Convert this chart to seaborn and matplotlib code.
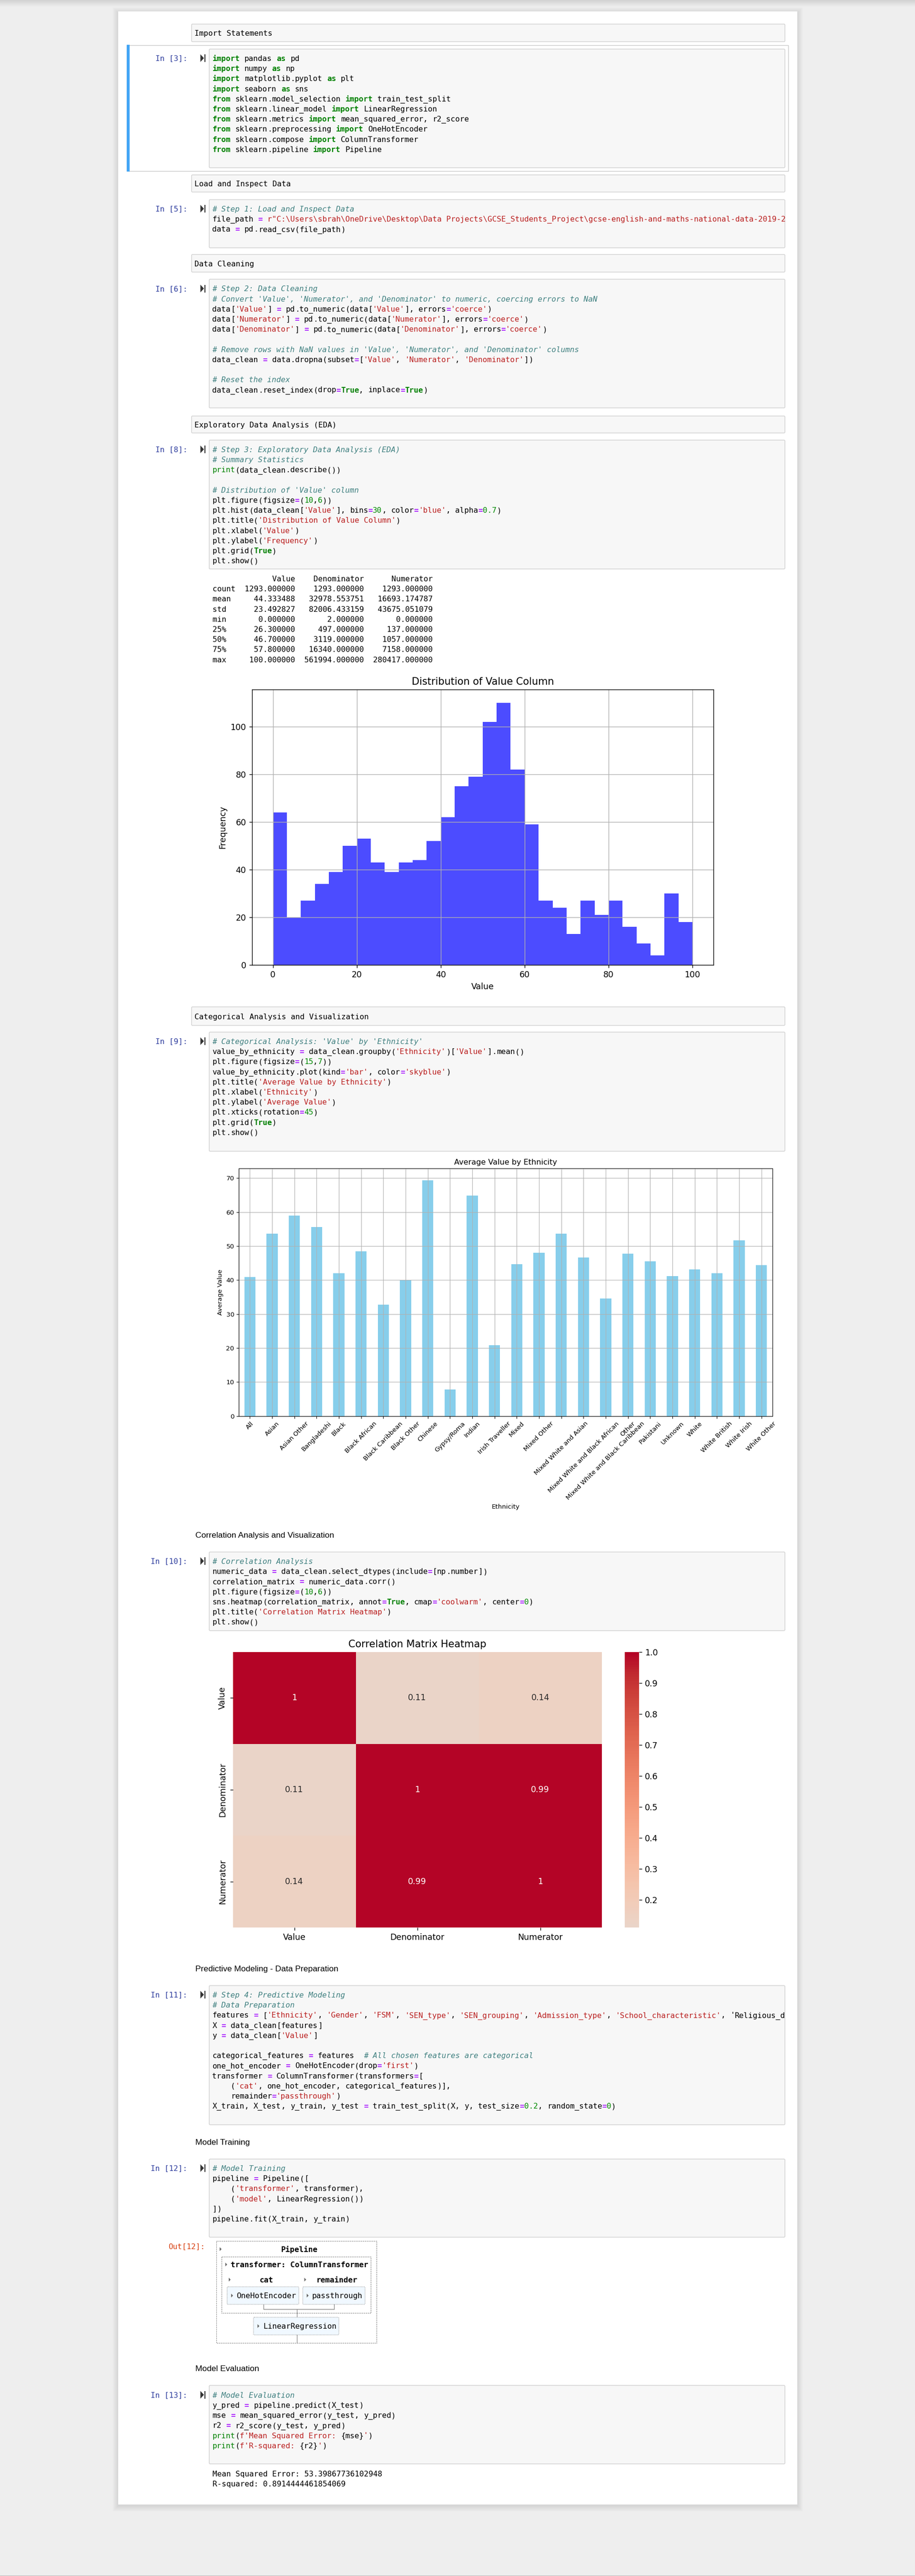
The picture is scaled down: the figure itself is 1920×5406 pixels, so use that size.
#!/usr/bin/env python3
import re
import numpy as np
import pandas as pd
import matplotlib
matplotlib.use('Agg')
import matplotlib.pyplot as plt
from matplotlib.patches import Rectangle, FancyBboxPatch, Polygon
import seaborn as sns

# chart data
hist_counts = [64, 20, 27, 34, 39, 50, 53, 43, 39, 43, 44, 52, 62, 75, 79,
               102, 110, 82, 59, 27, 24, 13, 27, 21, 27, 16, 9, 4, 30, 18]

ethnicity = ['All', 'Asian', 'Asian Other', 'Bangladeshi', 'Black', 'Black African',
             'Black Caribbean', 'Black Other', 'Chinese', 'Gypsy/Roma', 'Indian',
             'Irish Traveller', 'Mixed', 'Mixed Other', 'Mixed White and Asian',
             'Mixed White and Black African', 'Mixed White and Black Caribbean',
             'Other', 'Pakistani', 'Unknown', 'White', 'White British',
             'White Irish', 'White Other']
avg_values = [40.9, 53.6, 59.0, 55.6, 42.0, 48.4, 32.8, 40.0, 69.4, 7.8, 64.8, 20.9,
              44.7, 48.1, 53.7, 46.6, 34.6, 47.7, 45.5, 41.1, 43.1, 42.0, 51.7, 44.4]

corr_names = ['Value', 'Denominator', 'Numerator']
corr_value = [1, 0.11, 0.14]
corr_denominator = [0.11, 1, 0.99]
corr_numerator = [0.14, 0.99, 1]
cbar_ticks = [0.2, 0.3, 0.4, 0.5, 0.6, 0.7, 0.8, 0.9, 1.0]

# notebook text
code_3 = ["import pandas as pd",
          "import numpy as np",
          "import matplotlib.pyplot as plt",
          "import seaborn as sns",
          "from sklearn.model_selection import train_test_split",
          "from sklearn.linear_model import LinearRegression",
          "from sklearn.metrics import mean_squared_error, r2_score",
          "from sklearn.preprocessing import OneHotEncoder",
          "from sklearn.compose import ColumnTransformer",
          "from sklearn.pipeline import Pipeline"]
code_5 = ["# Step 1: Load and Inspect Data",
          "file_path = r\"C:\\Users\\sbrah\\OneDrive\\Desktop\\Data Projects\\GCSE_Students_Project\\gcse-english-and-maths-national-data-2019-2",
          "data = pd.read_csv(file_path)"]
code_6 = ["# Step 2: Data Cleaning",
          "# Convert 'Value', 'Numerator', and 'Denominator' to numeric, coercing errors to NaN",
          "data['Value'] = pd.to_numeric(data['Value'], errors='coerce')",
          "data['Numerator'] = pd.to_numeric(data['Numerator'], errors='coerce')",
          "data['Denominator'] = pd.to_numeric(data['Denominator'], errors='coerce')",
          "",
          "# Remove rows with NaN values in 'Value', 'Numerator', and 'Denominator' columns",
          "data_clean = data.dropna(subset=['Value', 'Numerator', 'Denominator'])",
          "",
          "# Reset the index",
          "data_clean.reset_index(drop=True, inplace=True)"]
code_8 = ["# Step 3: Exploratory Data Analysis (EDA)",
          "# Summary Statistics",
          "print(data_clean.describe())",
          "",
          "# Distribution of 'Value' column",
          "plt.figure(figsize=(10,6))",
          "plt.hist(data_clean['Value'], bins=30, color='blue', alpha=0.7)",
          "plt.title('Distribution of Value Column')",
          "plt.xlabel('Value')",
          "plt.ylabel('Frequency')",
          "plt.grid(True)",
          "plt.show()"]
describe_rows = ["             Value    Denominator      Numerator",
                 "count  1293.000000    1293.000000    1293.000000",
                 "mean     44.333488   32978.553751   16693.174787",
                 "std      23.492827   82006.433159   43675.051079",
                 "min       0.000000       2.000000       0.000000",
                 "25%      26.300000     497.000000     137.000000",
                 "50%      46.700000    3119.000000    1057.000000",
                 "75%      57.800000   16340.000000    7158.000000",
                 "max     100.000000  561994.000000  280417.000000"]
code_9 = ["# Categorical Analysis: 'Value' by 'Ethnicity'",
          "value_by_ethnicity = data_clean.groupby('Ethnicity')['Value'].mean()",
          "plt.figure(figsize=(15,7))",
          "value_by_ethnicity.plot(kind='bar', color='skyblue')",
          "plt.title('Average Value by Ethnicity')",
          "plt.xlabel('Ethnicity')",
          "plt.ylabel('Average Value')",
          "plt.xticks(rotation=45)",
          "plt.grid(True)",
          "plt.show()"]
code_10 = ["# Correlation Analysis",
           "numeric_data = data_clean.select_dtypes(include=[np.number])",
           "correlation_matrix = numeric_data.corr()",
           "plt.figure(figsize=(10,6))",
           "sns.heatmap(correlation_matrix, annot=True, cmap='coolwarm', center=0)",
           "plt.title('Correlation Matrix Heatmap')",
           "plt.show()"]
code_11 = ["# Step 4: Predictive Modeling",
           "# Data Preparation",
           "features = ['Ethnicity', 'Gender', 'FSM', 'SEN_type', 'SEN_grouping', 'Admission_type', 'School_characteristic', 'Religious_d",
           "X = data_clean[features]",
           "y = data_clean['Value']",
           "",
           "categorical_features = features  # All chosen features are categorical",
           "one_hot_encoder = OneHotEncoder(drop='first')",
           "transformer = ColumnTransformer(transformers=[",
           "    ('cat', one_hot_encoder, categorical_features)],",
           "    remainder='passthrough')",
           "X_train, X_test, y_train, y_test = train_test_split(X, y, test_size=0.2, random_state=0)"]
code_12 = ["# Model Training",
           "pipeline = Pipeline([",
           "    ('transformer', transformer),",
           "    ('model', LinearRegression())",
           "])",
           "pipeline.fit(X_train, y_train)"]
code_13 = ["# Model Evaluation",
           "y_pred = pipeline.predict(X_test)",
           "mse = mean_squared_error(y_test, y_pred)",
           "r2 = r2_score(y_test, y_pred)",
           "print(f'Mean Squared Error: {mse}')",
           "print(f'R-squared: {r2}')"]
eval_rows = ["Mean Squared Error: 53.39867736102948",
             "R-squared: 0.8914444461854069"]

FIG_W, FIG_H = 1920, 5406
MONO = 'DejaVu Sans Mono'
MONO_SIZE = 11.5
CHAR_W = 9.62
LINE_H = 21.2

TOKEN_RE = re.compile(
    r"(?P<comment>#.*$)"
    r"|(?P<string>[rf]?'[^']*'|[rf]?\"[^\"]*(?:\"|$))"
    r"|\b(?P<kw>import|from|as|True)\b"
    r"|\b(?P<builtin>print)\b"
    r"|\b(?P<num>\d+(?:\.\d+)?)\b"
    r"|(?P<op>=)"
    r"|(?P<other>\s+|\w+|.)")


def add_px_axes(fig, left, top, right, bottom):
    """axes from pixel edges"""
    return fig.add_axes([left / FIG_W, 1 - bottom / FIG_H,
                         (right - left) / FIG_W, (bottom - top) / FIG_H])


def put(bg, col_x, y, text, color='black', **kw):
    bg.text(col_x, y, text, color=color, family=MONO, fontsize=MONO_SIZE,
            va='baseline', **kw)


def draw_code_line(bg, x0, y, line):
    """simple syntax colouring, one text per token"""
    for m in TOKEN_RE.finditer(line):
        tok = m.group(0)
        if not tok.strip():
            continue
        x = x0 + m.start() * CHAR_W
        kind = m.lastgroup
        if kind == 'comment':
            put(bg, x, y, tok, '#408080', style='italic')
        elif kind == 'string':
            if tok.startswith("f'"):
                # f-string, the braces stay black
                for part in re.finditer(r"\{[^}]*\}|[^{]+", tok):
                    c = 'black' if part.group(0).startswith('{') else '#BA2121'
                    put(bg, x + part.start() * CHAR_W, y, part.group(0), c)
            else:
                put(bg, x, y, tok, '#BA2121')
        elif kind == 'kw':
            put(bg, x, y, tok, '#008000', weight='bold')
        elif kind == 'builtin':
            put(bg, x, y, tok, '#008000')
        elif kind == 'num':
            put(bg, x, y, tok, '#008800')
        elif kind == 'op':
            put(bg, x, y, tok, '#AA22FF', weight='bold')
        else:
            put(bg, x, y, tok)


def box(bg, x0, y0, x1, y1, face='#f7f7f7', edge='#cfcfcf', lw=1.0, ls='-', z=2):
    bg.add_patch(FancyBboxPatch((x0, y0), x1 - x0, y1 - y0,
                                boxstyle='round,pad=0,rounding_size=2',
                                fc=face, ec=edge, lw=lw, ls=ls, zorder=z))


def raw_cell(bg, top, bottom, text):
    box(bg, 402, top, 1647, bottom)
    put(bg, 408.5, (top + bottom) / 2 + 6, text, zorder=3)


def code_cell(bg, top, bottom, first_y, lines, prompt):
    box(bg, 439, top, 1647, bottom)
    bg.text(393.5, first_y + 6, prompt, color='#303F9F', family=MONO,
            fontsize=MONO_SIZE, ha='right', va='baseline')
    # run indicator
    bg.add_patch(Polygon([(420.5, first_y - 8), (428, first_y), (420.5, first_y + 8)],
                         fc='#333333', ec='none', zorder=3))
    bg.add_patch(Rectangle((428.5, first_y - 8), 2.5, 16, fc='#333333', ec='none', zorder=3))
    for i, line in enumerate(lines):
        draw_code_line(bg, 445.5, first_y + 6 + i * LINE_H, line)


def plain_heading(bg, y, text):
    bg.text(410, y + 6, text, color='black', family='Liberation Sans', fontsize=12.57,
            va='baseline')


def output_text(bg, first_y, rows):
    for i, row in enumerate(rows):
        if row:
            put(bg, 445.5, first_y + 6 + i * LINE_H, row)


def style_axes(ax, k):
    """default matplotlib look, scaled as the picture was resized by k"""
    for s in ax.spines.values():
        s.set_linewidth(0.8 * k)
    ax.tick_params(length=3.5 * k, width=0.8 * k, pad=3.5 * k, labelsize=10 * k)


def draw_hist(fig):
    ax = add_px_axes(fig, 528.6, 1447, 1497, 2025)
    edges = np.linspace(0, 100, 31)
    mids = (edges[:-1] + edges[1:]) / 2
    sns.histplot(x=mids, weights=hist_counts, bins=30, binrange=(0, 100), color='blue',
                 alpha=0.7, linewidth=0, ax=ax)
    ax.set_xlim(-5, 105)
    ax.set_ylim(0, 115.5)
    ax.grid(True, color='#b0b0b0', lw=1.0)
    k = 1.25
    style_axes(ax, k)
    ax.set_title('Distribution of Value Column', fontsize=12 * k, pad=6 * k)
    ax.set_xlabel('Value', fontsize=10 * k, labelpad=4 * k)
    ax.set_ylabel('Frequency', fontsize=10 * k, labelpad=4 * k)


def draw_bars(fig):
    ax = add_px_axes(fig, 500.9, 2451.8, 1621, 2971.7)
    sns.barplot(x=ethnicity, y=avg_values, color='skyblue', saturation=1, width=0.5,
                linewidth=0, errorbar=None, ax=ax)
    ax.set_xlim(-0.5, 23.5)
    ax.set_ylim(0, 72.87)
    ax.grid(True, color='#b0b0b0', lw=0.8)
    k = 0.964
    style_axes(ax, k)
    ax.tick_params(axis='x', rotation=45)
    ax.set_title('Average Value by Ethnicity', fontsize=12 * k, pad=6 * k)
    ax.set_xlabel('Ethnicity', fontsize=10 * k, labelpad=4 * k)
    ax.set_ylabel('Average Value', fontsize=10 * k, labelpad=4 * k)


def draw_heatmap(fig):
    ax = add_px_axes(fig, 488.5, 3467, 1262.7, 4045)
    cax = add_px_axes(fig, 1311, 3467, 1340.5, 4045)
    corr = pd.DataFrame([corr_value, corr_denominator, corr_numerator],
                        index=corr_names, columns=corr_names)
    k = 1.25
    sns.heatmap(corr, annot=True, cmap='coolwarm', center=0, ax=ax, cbar_ax=cax,
                cbar_kws={'ticks': cbar_ticks}, annot_kws={'size': 10 * k})
    style_axes(ax, k)
    ax.tick_params(length=3.5 * k)
    cax.tick_params(length=3.5 * k, width=0.8 * k, pad=3.5 * k, labelsize=10 * k)
    ax.set_title('Correlation Matrix Heatmap', fontsize=12 * k, pad=6 * k)


def draw_pipeline_diagram(bg):
    """sklearn estimator repr under Out[12]"""
    bg.text(430, 4720, 'Out[12]:', color='#D84315', family=MONO, fontsize=MONO_SIZE,
            ha='right', va='baseline')
    gray = '#696969'
    for x0, y0, x1, y1 in [(453.6, 4702.7, 790.4, 4917), (464.5, 4735.7, 778, 4854.3)]:
        bg.add_patch(Rectangle((x0, y0), x1 - x0, y1 - y0, fc='white', ec='#777777',
                               lw=0.8, ls=(0, (2, 1.5)), zorder=2))
    # connectors
    for xs, ys in [([552.5, 552.5], [4836, 4846]), ([701, 701], [4836, 4846]),
                   ([552.5, 701], [4846, 4846]), ([622.7, 622.7], [4846, 4863]),
                   ([622.7, 622.7], [4900, 4917])]:
        bg.plot(xs, ys, color='#777777', lw=0.8, zorder=3)
    for x0, x1, y0, y1, label, tx, ax_ in [
            (476.6, 627, 4799, 4836, 'OneHotEncoder', 496, 487),
            (635.4, 766, 4799, 4836, 'passthrough', 655, 645.6),
            (532, 711, 4863, 4900, 'LinearRegression', 552, 542.3)]:
        box(bg, x0, y0, x1, y1, face='#f0f8ff', edge='#777777', lw=0.8, ls=':', z=4)
        put(bg, tx, y0 + 24, label, zorder=5)
        bg.add_patch(Polygon([(ax_ - 2, y0 + 14.5), (ax_ + 2, y0 + 18.5), (ax_ - 2, y0 + 22.5)],
                             fc=gray, ec='none', zorder=5))
    for cx, y, label in [(628.4, 4726, 'Pipeline'), (628.4, 4758, 'transformer: ColumnTransformer'),
                         (559, 4790, 'cat'), (707.5, 4790, 'remainder')]:
        bg.text(cx, y, label, color='black', family=MONO, fontsize=MONO_SIZE, weight='bold',
                ha='center', va='baseline', zorder=5)
    for ax_, y in [(463, 4720), (474.7, 4752.3), (482, 4784), (640.5, 4784)]:
        bg.add_patch(Polygon([(ax_ - 2, y - 4), (ax_ + 2, y), (ax_ - 2, y + 4)],
                             fc=gray, ec='none', zorder=5))


def draw_page(bg):
    # page background, top shade, bottom rule
    bg.add_patch(Rectangle((0, 0), FIG_W, FIG_H, fc='#eeeeee', ec='none', zorder=0))
    for i in range(14):
        bg.add_patch(Rectangle((0, 0), FIG_W, 14 - i, fc='black', alpha=0.006, ec='none', zorder=0))
    bg.add_patch(Rectangle((0, 5404.5), FIG_W, 1.5, fc='#bbbbbb', ec='none', zorder=0))
    # sheet with a soft shadow
    for i in range(12, 0, -1):
        bg.add_patch(Rectangle((248 - i, 24 - i + 3), 1425 + 2 * i, 5232 + 2 * i,
                               fc='black', alpha=0.006, ec='none', zorder=0.5))
    bg.add_patch(Rectangle((248, 24), 1425, 5232, fc='white', ec='none', zorder=1))
    # selected cell frame
    bg.add_patch(Rectangle((266, 95), 1388, 264, fc='white', ec='#c8c8c8', lw=1.0, zorder=1.5))
    bg.add_patch(Rectangle((266, 94), 6, 265.5, fc='#42A5F5', ec='none', zorder=1.6))


def main():
    fig = plt.figure(figsize=(FIG_W / 100, FIG_H / 100), dpi=100)
    bg = fig.add_axes([0, 0, 1, 1], zorder=-1)
    bg.set_xlim(0, FIG_W)
    bg.set_ylim(FIG_H, 0)
    bg.axis('off')

    draw_page(bg)

    raw_cell(bg, 50.5, 87.5, 'Import Statements')
    code_cell(bg, 103, 352, 122, code_3, 'In [3]:')
    raw_cell(bg, 367, 403, 'Load and Inspect Data')
    code_cell(bg, 419, 520, 438, code_5, 'In [5]:')
    raw_cell(bg, 534, 571, 'Data Cleaning')
    code_cell(bg, 586, 856, 605.5, code_6, 'In [6]:')
    raw_cell(bg, 873, 908.6, 'Exploratory Data Analysis (EDA)')
    code_cell(bg, 923.6, 1194, 943, code_8, 'In [8]:')
    output_text(bg, 1214, describe_rows)
    draw_hist(fig)
    raw_cell(bg, 2113, 2152, 'Categorical Analysis and Visualization')
    code_cell(bg, 2166, 2416, 2185, code_9, 'In [9]:')
    draw_bars(fig)
    plain_heading(bg, 3221, 'Correlation Analysis and Visualization')
    code_cell(bg, 3257, 3422, 3276, code_10, 'In [10]:')
    draw_heatmap(fig)
    plain_heading(bg, 4131, 'Predictive Modeling - Data Preparation')
    code_cell(bg, 4167, 4459, 4186, code_11, 'In [11]:')
    plain_heading(bg, 4495, 'Model Training')
    code_cell(bg, 4531, 4695, 4550, code_12, 'In [12]:')
    draw_pipeline_diagram(bg)
    plain_heading(bg, 4970, 'Model Evaluation')
    code_cell(bg, 5006, 5170.7, 5025.7, code_13, 'In [13]:')
    output_text(bg, 5190.7, eval_rows)

    fig.savefig('out.png', dpi=100)
    plt.close(fig)


if __name__ == "__main__":
    main()
